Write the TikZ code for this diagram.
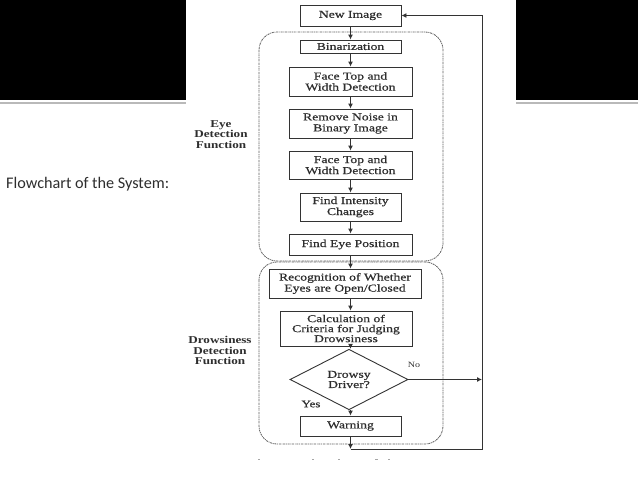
\documentclass[tikz,border=0pt]{standalone}
\usepackage{fontspec}
\usepackage{xcolor}
\usepackage{tikz}
\usetikzlibrary{calc,arrows.meta,shapes.geometric}
\setmainfont{Carlito}
\newfontfamily\chartfont[FakeStretch=1.3,FakeBold=0.6]{Liberation Serif}
\newfontfamily\labelfont[FakeStretch=1.25]{Liberation Serif}
\definecolor{inkgray}{HTML}{2E2E2E}
\definecolor{linegray}{HTML}{333333}
\definecolor{dashgray}{HTML}{5E5E5E}

\tikzset{
	chartbox/.style={draw=linegray, line width=0.9pt, inner sep=1pt, align=center,
		font=\chartfont\fontsize{10.5}{11}\selectfont, text=inkgray},
	decision/.style={diamond, draw=linegray, line width=0.9pt, inner sep=0pt, align=center,
		font=\chartfont\fontsize{10.5}{9}\selectfont, text=inkgray},
	grouplabel/.style={align=center, font=\labelfont\bfseries\fontsize{10.5}{10.7}\selectfont, text=inkgray},
	region/.style={draw=dashgray, line width=0.8pt, rounded corners=18pt,
		dash pattern=on 2pt off 0.8pt on 0.8pt off 0.8pt},
	arr/.style={draw=linegray, line width=0.9pt, -{Latex[length=5pt,width=5pt]}}
}

\begin{document}
\begin{tikzpicture}[x=1pt,y=-1pt]
	\useasboundingbox (0,0) rectangle (638,479);
	\fill[white] (0,0) rectangle (638,479);

	% slide background
	\fill[black] (0,0) rectangle (186,100);
	\fill[black] (516,0) rectangle (638,100);
	\draw[gray!55, line width=1.5pt] (0,103) -- (186,103);
	\draw[gray!55, line width=1.5pt] (516,103) -- (638,103);
	\node[anchor=west, inner sep=0pt, font=\fontsize{16.2}{19}\selectfont, text=inkgray] (title) at (6,184) {Flowchart of the System:};

	% function regions
	\draw[region] (259,32) rectangle (443,261);
	\draw[region] (259,262) rectangle (443,444);
	\node[grouplabel] (eyelbl) at (221,134.5) {Eye\\Detection\\Function};
	\node[grouplabel] (drowlbl) at (220,350.5) {Drowsiness\\Detection\\Function};

	% steps
	\node[chartbox, minimum width=101pt, minimum height=21pt] (nimg) at (350.5,15.5) {New Image};
	\node[chartbox, minimum width=101pt, minimum height=13pt, inner sep=0pt] (bin) at (350.5,46.5) {Binarization};
	\node[chartbox, minimum width=123pt, minimum height=29pt] (face1) at (350.5,81.5) {Face Top and\\Width Detection};
	\node[chartbox, minimum width=123pt, minimum height=29pt] (noise) at (350.5,123.5) {Remove Noise in\\Binary Image};
	\node[chartbox, minimum width=123pt, minimum height=28pt] (face2) at (350.5,165) {Face Top and\\Width Detection};
	\node[chartbox, minimum width=101pt, minimum height=28pt] (inten) at (350.5,207) {Find Intensity\\Changes};
	\node[chartbox, minimum width=123pt, minimum height=21pt] (eyepos) at (350.5,244.5) {Find Eye Position};
	\node[chartbox, minimum width=152pt, minimum height=29pt] (rec) at (345,283.5) {Recognition of Whether\\Eyes are Open/Closed};
	\node[chartbox, minimum width=132pt, minimum height=35pt, inner sep=0pt,
		font=\chartfont\fontsize{10.5}{10}\selectfont] (calc) at (346,328.5) {Calculation of\\Criteria for Judging\\Drowsiness};
	\node[decision, minimum width=118pt, minimum height=43pt] (drowsy) at (349,379.5) {Drowsy\\Driver?};
	\node[chartbox, minimum width=101pt, minimum height=20pt] (warn) at (350.5,426) {Warning};

	\coordinate (loopbot) at (350.5,449);
	\coordinate (loopright) at (482,449);

	% connectors
	\draw[arr] (nimg) -- (bin);
	\draw[arr] (bin) -- (face1);
	\draw[arr] (face1) -- (noise);
	\draw[arr] (noise) -- (face2);
	\draw[arr] (face2) -- (inten);
	\draw[arr] (inten) -- (eyepos);
	\draw[arr] (eyepos.south) -- (eyepos.south |- rec.north);
	\draw[arr] (eyepos.south |- rec.south) -- (eyepos.south |- calc.north);
	\draw[arr] (eyepos.south |- calc.south) -- (eyepos.south |- drowsy.north);
	\draw[arr] (drowsy.south -| warn.north) -- (warn.north);
	\draw[arr] (warn) -- (loopbot);
	\draw[arr] (loopbot) -- (loopright) |- (nimg.east);
	\draw[arr] (drowsy.east) -- (drowsy.east -| loopright);
	\node[font=\labelfont\fontsize{8}{9}\selectfont, text=inkgray] (nolbl) at (414,365) {No};
	\node[font=\chartfont\fontsize{10}{11}\selectfont, text=inkgray] (yeslbl) at (311,404) {Yes};

	% cut-off caption remains
	\foreach \cx/\cw in {258/2, 312/2, 338/2, 375/3, 388/2}
		\draw[gray!70, line width=0.8pt] (\cx,459) -- ++(\cw,0);
\end{tikzpicture}
\end{document}
